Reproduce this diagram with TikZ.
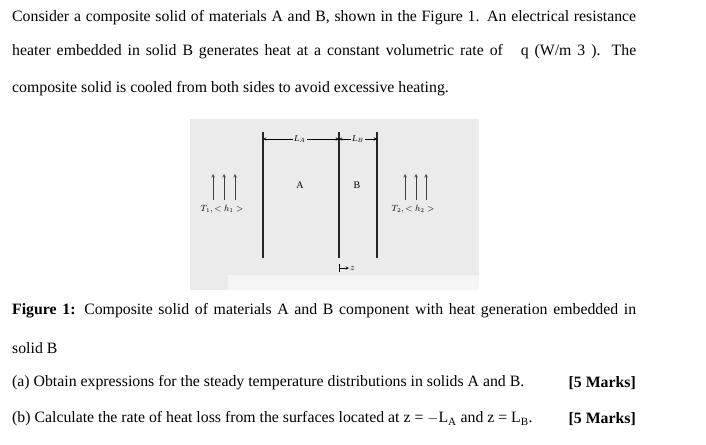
\documentclass[tikz,border=0pt]{standalone}
\usepackage{fontspec}
\setmainfont{Liberation Serif}
\begin{document}
\begin{tikzpicture}[x=1pt,y=-1pt,
 txt/.style={anchor=west,inner sep=0pt,font=\fontsize{15.8}{17}\selectfont},
 wall/.style={line width=1.6pt,black!85},
 flow/.style={->,>=stealth,line width=0.6pt,black!75},
 small/.style={font=\fontsize{9}{10}\selectfont\itshape,inner sep=1pt},
 dim/.style={<->,>=stealth,line width=0.5pt}]
\useasboundingbox (0,0) rectangle (706,444);
\node[txt] (l1) at (12,18) {\makebox[624pt][s]{Consider a composite solid of materials A and B, shown in the Figure 1. An electrical resistance}};
\node[txt] (l2) at (12,52) {\makebox[624pt][s]{heater embedded in solid B generates heat at a constant volumetric rate of \ \ q (W/m 3 ). The}};
\node[txt] (l3) at (12,89) {composite solid is cooled from both sides to avoid excessive heating.};
% figure
\fill[black!8] (190,119) rectangle (479,290);
\fill[black!4] (228,275) rectangle (479,290);
\coordinate (w1t) at (263,132); \coordinate (w1b) at (263,258);
\coordinate (w2t) at (339,132); \coordinate (w2b) at (339,258);
\coordinate (w3t) at (377,132); \coordinate (w3b) at (377,258);
\draw[wall] (w1t)--(w1b); \draw[wall] (w2t)--(w2b); \draw[wall] (w3t)--(w3b);
\coordinate (d1) at (263,139); \coordinate (d2) at (339,139); \coordinate (d3) at (377,139);
\draw[dim] (d1)--(d2); \draw[dim] (d2)--(d3);
\node[small,fill=black!8] (la) at (300,139) {L$_A$};
\node[small,fill=black!8] (lb) at (358,139) {L$_B$};
\node[font=\fontsize{10}{11}\selectfont] (a) at (300,185) {A};
\node[font=\fontsize{10}{11}\selectfont] (b) at (357,185) {B};
\foreach \x in {213,224,235,405,416,426}{\draw[flow] (\x,200)--(\x,174);}
\node[small] (t1) at (222,209) {$T_1, <h_1>$};
\node[small] (t2) at (413,209) {$T_2, <h_2>$};
\coordinate (z0) at (339,268); \coordinate (z1) at (349,268);
\draw[line width=0.5pt] (339,264)--(339,272);
\draw[->,>=stealth,line width=0.5pt] (z0)--(z1);
\node[small,anchor=west] (z) at (349,269) {$z$};
% caption
\node[txt] (c1) at (12,311) {\makebox[624pt][s]{\textbf{Figure 1:} Composite solid of materials A and B component with heat generation embedded in}};
\node[txt] (c2) at (12,348) {solid B};
\node[txt] (qa) at (12,383) {(a) Obtain expressions for the steady temperature distributions in solids A and B.};
\node[txt,anchor=east] (ma) at (636,383) {\textbf{[5 Marks]}};
\node[txt] (qb) at (12,419) {(b) Calculate the rate of heat loss from the surfaces located at z = $-$L$_{\mathrm{A}}$ and z = L$_{\mathrm{B}}$.};
\node[txt,anchor=east] (mb) at (636,419) {\textbf{[5 Marks]}};
\end{tikzpicture}
\end{document}
